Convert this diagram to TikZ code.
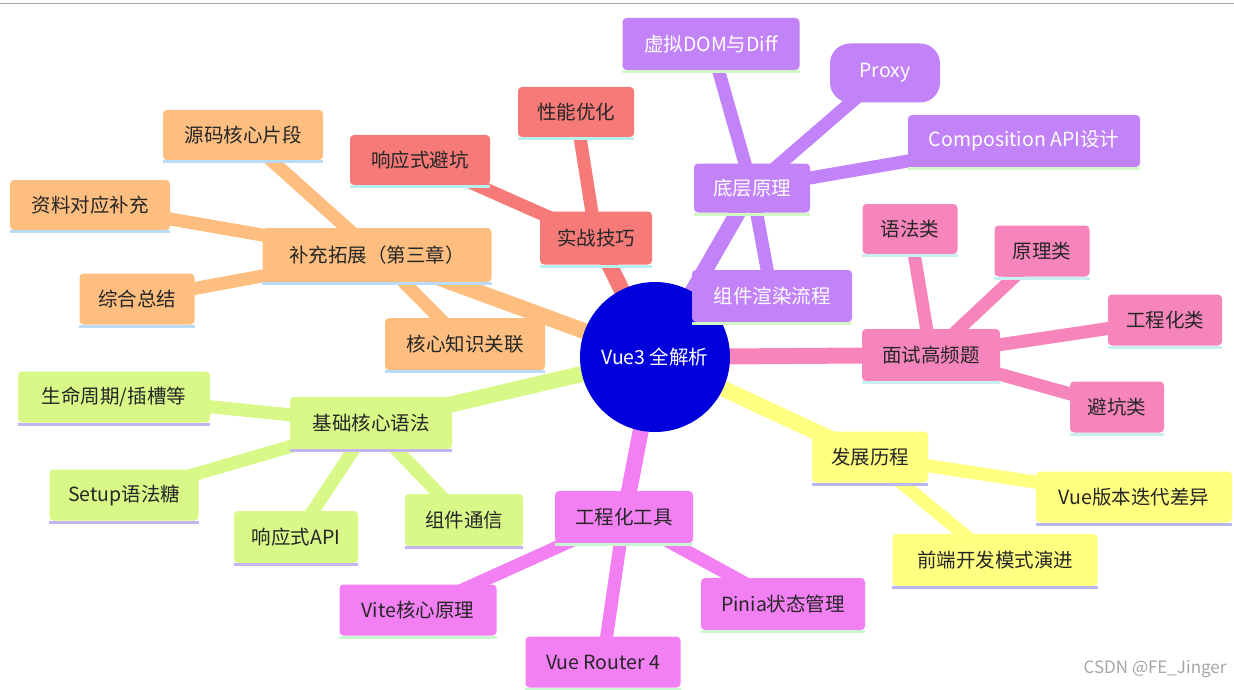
\documentclass[tikz,border=0pt]{standalone}
\usepackage{fontspec}
\setmainfont{Noto Sans CJK SC}
\pgfdeclarelayer{bg}\pgfsetlayers{bg,main}
\definecolor{cO}{HTML}{FDBE80}\definecolor{uO}{HTML}{B8DCF8}
\definecolor{cR}{HTML}{F57A78}\definecolor{uR}{HTML}{B8F0F0}
\definecolor{cP}{HTML}{C283F8}\definecolor{uP}{HTML}{D4F8C4}
\definecolor{cK}{HTML}{F585BA}\definecolor{uK}{HTML}{C8F0F0}
\definecolor{cY}{HTML}{FFFF80}\definecolor{uY}{HTML}{B8B8F0}
\definecolor{cM}{HTML}{F280F2}\definecolor{uM}{HTML}{C8F8D0}
\definecolor{cG}{HTML}{D8F888}\definecolor{uG}{HTML}{C4B4F0}
\definecolor{cB}{HTML}{0000DD}
\tikzset{
 box/.style={fill=#1,rounded corners=4pt,inner sep=0pt,font=\fontsize{19.5}{19.5}\selectfont,text=black!85},
 uline/.style={draw=#1,line width=3pt},
 e1/.style={line width=16pt},
 e2/.style={line width=13pt}
}
\newcommand\NN[7]{\node[box=c#6,minimum width=#4pt,minimum height=#5pt] (#1) at (#2,#3) {#7};
 \draw[uline=u#6] ([yshift=-1.5pt]#1.south west) -- ([yshift=-1.5pt]#1.south east);}
\begin{document}
\begin{tikzpicture}[x=1pt,y=-1pt]
\useasboundingbox (0,0) rectangle (1234,690);
\begin{pgfonlayer}{bg}
\fill[white] (0,0) rectangle (1234,690);
\end{pgfonlayer}
\draw[gray!70,line width=1pt] (0,4) -- (1234,4);
\node[circle,fill=cB,minimum size=150pt,inner sep=0pt,text=white,font=\fontsize{19.5}{19.5}\selectfont] (c) at (655,357) {Vue3 全解析};
% orange
\NN{o}{377}{255}{229}{54}{O}{补充拓展（第三章）}
\NN{o1}{243}{135}{160}{50}{O}{源码核心片段}
\NN{o2}{90}{205}{160}{50}{O}{资料对应补充}
\NN{o3}{137}{299}{115}{51}{O}{综合总结}
\NN{o4}{465}{344}{160}{52}{O}{核心知识关联}
% red
\NN{r}{596}{238}{112}{53}{R}{实战技巧}
\NN{r1}{420}{160}{140}{50}{R}{响应式避坑}
\NN{r2}{576}{112}{116}{50}{R}{性能优化}
% purple
\NN{p}{752}{188}{116}{49}{P}{\color{white}底层原理}
\NN{p1}{711}{44}{177}{52}{P}{\color{white}虚拟DOM与Diff}
\node[fill=cP,rounded corners=20pt,minimum width=110pt,minimum height=59pt,inner sep=0pt,text=white,font=\fontsize{19.5}{19.5}\selectfont] (p2) at (885,73) {Proxy};
\NN{p3}{1024}{141}{232}{52}{P}{\color{white}Composition API设计}
\NN{p4}{772}{296}{160}{52}{P}{\color{white}组件渲染流程}
% pink
\NN{k}{931}{355}{138}{52}{K}{面试高频题}
\NN{k1}{910}{229}{95}{50}{K}{语法类}
\NN{k2}{1042}{251}{95}{51}{K}{原理类}
\NN{k3}{1165}{320}{114}{51}{K}{工程化类}
\NN{k4}{1117}{407}{94}{51}{K}{避坑类}
% yellow
\NN{y}{870}{457}{116}{51}{Y}{发展历程}
\NN{y1}{1134}{497}{196}{51}{Y}{Vue版本迭代差异}
\NN{y2}{995}{560}{205}{52}{Y}{前端开发模式演进}
% magenta
\NN{m}{624}{517}{138}{52}{M}{工程化工具}
\NN{m1}{418}{610}{157}{51}{M}{Vite核心原理}
\NN{m2}{603}{662}{155}{51}{M}{Vue Router 4}
\NN{m3}{783}{604}{164}{52}{M}{Pinia状态管理}
% green
\NN{g}{371}{423}{162}{52}{G}{基础核心语法}
\NN{g1}{114}{397}{192}{51}{G}{生命周期/插槽等}
\NN{g2}{124}{495}{149}{51}{G}{Setup语法糖}
\NN{g3}{296}{537}{124}{52}{G}{响应式API}
\NN{g4}{464}{520}{118}{52}{G}{组件通信}
\node[text=gray!70,font=\fontsize{17}{17}\selectfont,anchor=east] (wm) at (1230,669) {CSDN @FE\_Jinger};
\begin{pgfonlayer}{bg}
\draw[cO,e1] (c.center) -- (o.center);
\draw[cO,e2] (o.center) -- (o1.center) (o.center) -- (o2.center) (o.center) -- (o3.center) (o.center) -- (o4.center);
\draw[cR,e1] (c.center) -- (r.center);
\draw[cR,e2] (r.center) -- (r1.center) (r.center) -- (r2.center);
\draw[cP,e1] (c.center) -- (p.center);
\draw[cP,e2] (p.center) -- (p1.center) (p.center) -- (p2.center) (p.center) -- (p3.center) (p.center) -- (p4.center);
\draw[cK,e1] (c.center) -- (k.center);
\draw[cK,e2] (k.center) -- (k1.center) (k.center) -- (k2.center) (k.center) -- (k3.center) (k.center) -- (k4.center);
\draw[cY,e1] (c.center) -- (y.center);
\draw[cY,e2] (y.center) -- (y1.center) (y.center) -- (y2.center);
\draw[cM,e1] (c.center) -- (m.center);
\draw[cM,e2] (m.center) -- (m1.center) (m.center) -- (m2.center) (m.center) -- (m3.center);
\draw[cG,e1] (c.center) -- (g.center);
\draw[cG,e2] (g.center) -- (g1.center) (g.center) -- (g2.center) (g.center) -- (g3.center) (g.center) -- (g4.center);
\end{pgfonlayer}
\end{tikzpicture}
\end{document}
